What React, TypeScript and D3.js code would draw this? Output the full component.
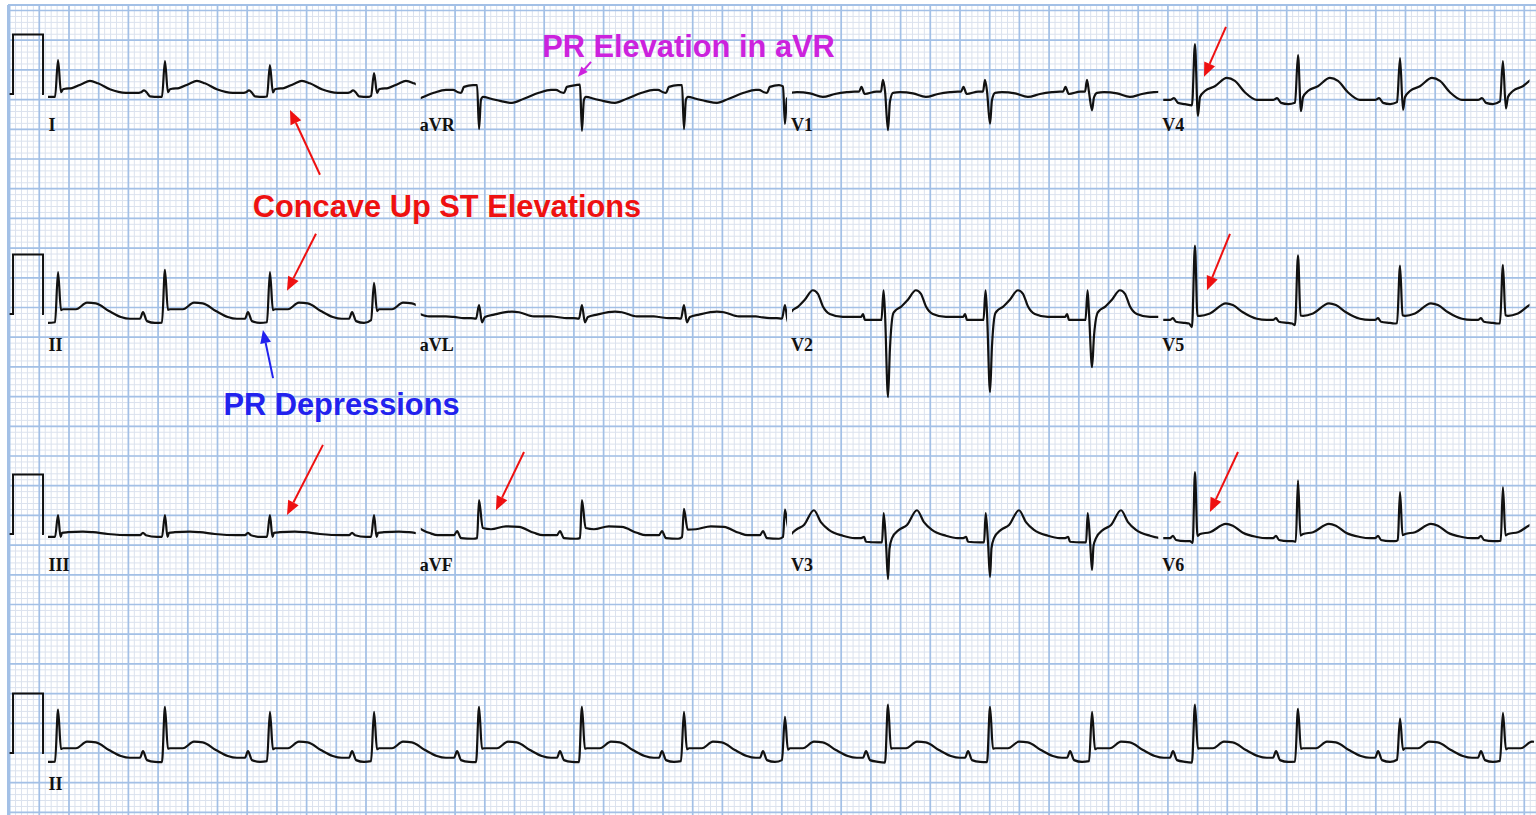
import { useMemo } from 'react';
import * as d3 from 'd3';

const W = 1536;
const H = 815;

// time of the main QRS deflection of every beat, seconds from the left edge of the strip
const BEAT_TIMES = [0.081, 0.801, 1.508, 2.209, 2.916, 3.609, 4.296, 4.976, 5.67, 6.357, 7.044, 7.737, 8.431, 9.118, 9.811];

type Knot = [number, number]; // [ms from QRS, mV]

const TPL_I: Knot[] = [[-175, 0.02], [-161, 0.03], [-141, 0.06], [-121, 0.02], [-101, -0.04], [-40, -0.05], [-20, -0.05], [0, 0.57], [20, 0.03], [34, 0.08], [54, 0.09], [94, 0.1], [161, 0.17], [215, 0.22], [269, 0.18], [349, 0.08], [457, 0.02], [484, 0.02]];
const TPL_II: Knot[] = [[-168, -0.08], [-148, 0.03], [-121, -0.12], [-67, -0.15], [-20, -0.15], [0, 0.76], [20, 0.07], [34, 0.08], [54, 0.08], [121, 0.08], [195, 0.19], [255, 0.18], [343, 0.05], [423, -0.05], [484, -0.08]];
const TPL_III: Knot[] = [[-168, -0.02], [-148, 0.02], [-128, -0.02], [-54, -0.05], [-20, -0.05], [0, 0.32], [17, -0.05], [27, 0.02], [67, 0.03], [168, 0.04], [235, 0.03], [336, 0], [484, -0.02]];
const TPL_AVR: Knot[] = [[-175, 0.07], [-141, 0.03], [-121, 0.02], [-101, 0.12], [-40, 0.15], [-13, 0.15], [0, -0.59], [13, -0.1], [27, -0.05], [81, -0.08], [148, -0.12], [222, -0.15], [302, -0.08], [403, 0.02], [484, 0.07]];
const TPL_AVL: Knot[] = [[-168, -0.05], [-101, -0.07], [-54, -0.07], [-20, -0.08], [0, 0.15], [20, -0.14], [40, -0.05], [101, -0.01], [222, 0.04], [269, 0.03], [370, -0.04], [484, -0.04]];
const TPL_AVF: Knot[] = [[-168, -0.02], [-148, 0.05], [-121, -0.07], [-40, -0.08], [-13, -0.07], [0, 0.57], [25, 0.1], [81, 0.08], [181, 0.13], [269, 0.12], [370, 0.02], [430, -0.02], [484, -0.02]];
const TPL_V1: Knot[] = [[-195, 0.04], [-179, 0.12], [-157, 0], [-78, 0.04], [-47, 0.04], [-34, 0.24], [-20, 0.05], [0, -0.61], [13, -0.13], [34, 0.02], [81, 0.03], [168, 0.01], [255, -0.05], [336, 0], [417, 0.03], [470, 0.04]];
const TPL_V2: Knot[] = [[-181, -0.05], [-168, 0], [-155, -0.1], [-67, -0.1], [-44, -0.1], [-30, 0.4], [-20, 0], [0, -1.4], [13, -0.59], [34, 0], [47, 0.05], [87, 0.12], [134, 0.24], [188, 0.4], [222, 0.34], [255, 0.13], [302, 0], [390, -0.05], [470, -0.05]];
const TPL_V3: Knot[] = [[-181, -0.07], [-161, -0.05], [-148, -0.13], [-67, -0.14], [-40, -0.14], [-29, 0.35], [-13, -0.17], [0, -0.76], [10, -0.25], [27, -0.07], [74, 0.07], [128, 0.15], [195, 0.4], [242, 0.2], [296, 0.07], [390, -0.03], [470, -0.07]];
const TPL_V4: Knot[] = [[-168, -0.1], [-141, -0.07], [-114, -0.15], [-67, -0.17], [-20, -0.19], [0, 0.84], [20, -0.37], [34, -0.05], [67, 0.05], [134, 0.13], [215, 0.27], [269, 0.22], [336, 0.03], [417, -0.1], [484, -0.1]];
const TPL_V5: Knot[] = [[-168, -0.1], [-148, -0.07], [-128, -0.13], [-67, -0.15], [-40, -0.16], [-20, -0.22], [0, 1.15], [17, -0.03], [34, -0.03], [101, 0.01], [208, 0.18], [255, 0.15], [323, 0.03], [417, -0.08], [484, -0.1]];
const TPL_V6: Knot[] = [[-168, -0.07], [-148, -0.03], [-128, -0.1], [-67, -0.12], [-34, -0.12], [-15, -0.15], [0, 1.04], [17, -0.03], [34, 0], [101, 0.03], [208, 0.17], [255, 0.14], [323, 0.02], [417, -0.05], [484, -0.07]];

// beat-to-beat QRS size (respiratory variation), one value per beat
const GAIN_I = [1, 0.97, 0.85, 0.62, 1, 1, 1, 1, 1, 1, 1, 1, 1, 1, 1];
const GAIN_II = [0.93, 0.98, 0.93, 0.69, 1, 1, 1, 1, 1, 1, 1, 1, 1, 1, 1];
const GAIN_RHYTHM = [0.96, 1.02, 0.91, 0.91, 1.02, 1.02, 0.91, 0.8, 1.07, 1.02, 0.91, 1.07, 0.98, 0.76, 0.89];
const GAIN_AVR = [1, 1, 1, 1, 1, 1.05, 1, 0.85, 1, 1, 1, 1, 1, 1, 1];
const GAIN_AVF = [1, 1, 1, 1, 1, 1, 0.74, 0.72, 1, 1, 1, 1, 1, 1, 1];
const GAIN_V1 = [1, 1, 1, 1, 1, 1, 1, 1, 1, 0.82, 0.45, 1, 1, 1, 1];
const GAIN_V2 = [1, 1, 1, 1, 1, 1, 1, 1, 1, 0.94, 0.64, 1, 1, 1, 1];
const GAIN_V3 = [1, 1, 1, 1, 1, 1, 1, 1, 1, 0.95, 0.8, 1, 1, 1, 1];
const GAIN_V4 = [1, 1, 1, 1, 1, 1, 1, 1, 1, 1, 1, 1, 0.78, 0.72, 0.66];
const GAIN_V5 = [1, 1, 1, 1, 1, 1, 1, 1, 1, 1, 1, 1, 0.86, 0.71, 0.72];
const GAIN_V6 = [1, 1, 1, 1, 1, 1, 1, 1, 1, 1, 1, 1, 0.87, 0.68, 0.76];
const GAIN_FLAT = [1, 1, 1, 1, 1, 1, 1, 1, 1, 1, 1, 1, 1, 1, 1];

const LEAD_ROWS = [
  ['I', 'aVR', 'V1', 'V4'],
  ['II', 'aVL', 'V2', 'V5'],
  ['III', 'aVF', 'V3', 'V6'],
];
const RHYTHM_LEAD = 'II';

const TEMPLATES: Record<string, Knot[]> = {
  I: TPL_I, II: TPL_II, III: TPL_III, aVR: TPL_AVR, aVL: TPL_AVL, aVF: TPL_AVF,
  V1: TPL_V1, V2: TPL_V2, V3: TPL_V3, V4: TPL_V4, V5: TPL_V5, V6: TPL_V6,
};
const GAINS: Record<string, number[]> = {
  I: GAIN_I, II: GAIN_II, III: GAIN_FLAT, aVR: GAIN_AVR, aVL: GAIN_FLAT, aVF: GAIN_AVF,
  V1: GAIN_V1, V2: GAIN_V2, V3: GAIN_V3, V4: GAIN_V4, V5: GAIN_V5, V6: GAIN_V6,
};

// 1 mV calibration step, [s, mV]
const CAL_PULSE: Knot[] = [[-0.245, 0], [-0.222, 0], [-0.222, 1], [-0.02, 1], [-0.02, 0], [-0.014, 0]];

// annotations: [row, tip s, tip mV, tail s, tail mV]
const RED_ARROWS = [
  [0, 1.643, -0.27, 1.845, -1.36],
  [1, 1.623, 0.39, 1.818, 1.35],
  [2, 1.623, 0.32, 1.865, 1.5],
  [2, 3.03, 0.4, 3.219, 1.38],
  [0, 7.798, 0.29, 7.946, 1.13],
  [1, 7.818, 0.4, 7.973, 1.35],
  [2, 7.838, 0.37, 8.027, 1.38],
];
const BLUE_ARROWS = [[1, 1.461, -0.27, 1.529, -1.08]];
const MAGENTA_ARROWS = [[0, 3.582, 0.29, 3.67, 0.54]];

const NOTES = [
  { text: 'PR Elevation in aVR', x: 688.5, y: 57, color: '#cc22dd' },
  { text: 'Concave Up ST Elevations', x: 447, y: 217, color: '#ee1111' },
  { text: 'PR Depressions', x: 341.5, y: 415, color: '#2222ee' },
];

const SECONDS = 10;
const COL_SECONDS = 2.5;

function leadPoints(lead: string, gain: number[]): Knot[] {
  const tpl = TEMPLATES[lead];
  const pts: Knot[] = [];
  BEAT_TIMES.forEach((t, i) => {
    tpl.forEach(([ms, mv]) => {
      const g = Math.abs(ms) <= 25 ? gain[i] : 1;
      pts.push([t + ms / 1000, mv * g]);
    });
  });
  pts.sort((a, b) => a[0] - b[0]);
  return pts;
}

function Arrow({ x1, y1, x2, y2, color, head = 13, width = 2 }: any) {
  const ang = Math.atan2(y2 - y1, x2 - x1);
  const bx = x2 - head * Math.cos(ang);
  const by = y2 - head * Math.sin(ang);
  const hw = head * 0.42;
  const p1 = [bx + hw * Math.sin(ang), by - hw * Math.cos(ang)];
  const p2 = [bx - hw * Math.sin(ang), by + hw * Math.cos(ang)];
  return (
    <g>
      <line x1={x1} y1={y1} x2={bx} y2={by} stroke={color} strokeWidth={width} />
      <polygon points={`${x2},${y2} ${p1[0]},${p1[1]} ${p2[0]},${p2[1]}`} fill={color} />
    </g>
  );
}

export default function App() {
  const major = 29.7;
  const minor = major / 5;
  const gx0 = 9.6;
  const gy0 = 10.5;
  const baselines = [94, 314, 534, 753];
  const mvPx = 59.4;

  const x = d3.scaleLinear().domain([0, SECONDS]).range([46, 46 + 148.5 * SECONDS]);
  const yRow = (r: number) => d3.scaleLinear().domain([0, 1]).range([baselines[r], baselines[r] - mvPx]);

  const minorX = d3.range(gx0 - minor, W + 1, minor);
  const minorY = d3.range(gy0 - minor, H + 1, minor);
  const majorX = d3.range(gx0, W + 1, major);
  const majorY = d3.range(gy0, H + 1, major);

  const traces = useMemo(() => {
    const out: { d: string; clip: [number, number]; row: number; lead: string; labelX: number }[] = [];
    LEAD_ROWS.forEach((leads, r) => {
      const y = yRow(r);
      const line = d3.line<Knot>().x(p => x(p[0])).y(p => y(p[1])).curve(d3.curveMonotoneX);
      leads.forEach((lead, c) => {
        const t0 = c * COL_SECONDS;
        const t1 = (c + 1) * COL_SECONDS;
        const start = c === 0 ? x(t0) + 2 : x(t0) + 3.5;
        out.push({
          d: line(leadPoints(lead, GAINS[lead])) || '',
          clip: [start, x(t1) - 1.5],
          row: r,
          lead,
          labelX: x(t0) + 2.5,
        });
      });
    });
    const y3 = yRow(3);
    const line3 = d3.line<Knot>().x(p => x(p[0])).y(p => y3(p[1])).curve(d3.curveMonotoneX);
    out.push({
      d: line3(leadPoints(RHYTHM_LEAD, GAIN_RHYTHM)) || '',
      clip: [x(0) + 2, x(SECONDS) + 3],
      row: 3,
      lead: RHYTHM_LEAD,
      labelX: x(0) + 2.5,
    });
    return out;
  }, []);

  const arrowEls = (list: number[][], color: string, head: number) =>
    list.map((a, i) => {
      const y = yRow(a[0]);
      return <Arrow key={color + i} x1={x(a[3])} y1={y(a[4])} x2={x(a[1])} y2={y(a[2])} color={color} head={head} />;
    });

  return (
    <svg width={W} height={H} style={{ position: 'absolute', left: 0, top: 0, background: '#fff' }}>
      <defs>
        {traces.map((t, i) => (
          <clipPath id={`clip${i}`} key={i}>
            <rect x={t.clip[0]} y={0} width={t.clip[1] - t.clip[0]} height={H} />
          </clipPath>
        ))}
      </defs>
      <rect x={0} y={0} width={W} height={H} fill="#fff" />
      <g>
        {minorX.filter(v => v >= 8).map((v, i) => (
          <line key={'mx' + i} x1={v} x2={v} y1={5} y2={H} stroke="#dbe2ee" strokeWidth={1} />
        ))}
        {minorY.filter(v => v >= 5).map((v, i) => (
          <line key={'my' + i} x1={8} x2={W} y1={v} y2={v} stroke="#dbe2ee" strokeWidth={1} />
        ))}
        {majorX.map((v, i) => (
          <line key={'Mx' + i} x1={v} x2={v} y1={5} y2={H} stroke="#a3c0e6" strokeWidth={1.7} />
        ))}
        {majorY.map((v, i) => (
          <line key={'My' + i} x1={8} x2={W} y1={v} y2={v} stroke="#a3c0e6" strokeWidth={1.7} />
        ))}
        <line x1={8} x2={W} y1={5} y2={5} stroke="#a3c0e6" strokeWidth={2} />
        <line x1={8} x2={8} y1={5} y2={H} stroke="#a3c0e6" strokeWidth={2} />
      </g>

      {baselines.map((b, r) => {
        const y = yRow(r);
        const cal = d3.line<Knot>().x(p => x(p[0])).y(p => y(p[1]));
        return <path key={'cal' + r} d={cal(CAL_PULSE) || ''} fill="none" stroke="#111" strokeWidth={2} />;
      })}

      {traces.map((t, i) => (
        <path key={'tr' + i} d={t.d} clipPath={`url(#clip${i})`} fill="none" stroke="#111" strokeWidth={2.2}
          strokeLinejoin="round" strokeLinecap="round" />
      ))}

      {traces.map((t, i) => (
        <text key={'lb' + i} x={t.labelX} y={baselines[t.row] + 37} fontFamily="'Liberation Serif', serif"
          fontWeight="bold" fontSize={18} fill="#111">{t.lead}</text>
      ))}

      {arrowEls(RED_ARROWS, '#ee1111', 14)}
      {arrowEls(BLUE_ARROWS, '#2222ee', 13)}
      {arrowEls(MAGENTA_ARROWS, '#cc22dd', 10)}

      {NOTES.map(n => (
        <text key={n.text} x={n.x} y={n.y} textAnchor="middle" fontFamily="'Liberation Sans', Arial, sans-serif"
          fontWeight="bold" fontSize={30.8} fill={n.color}>{n.text}</text>
      ))}
    </svg>
  );
}
